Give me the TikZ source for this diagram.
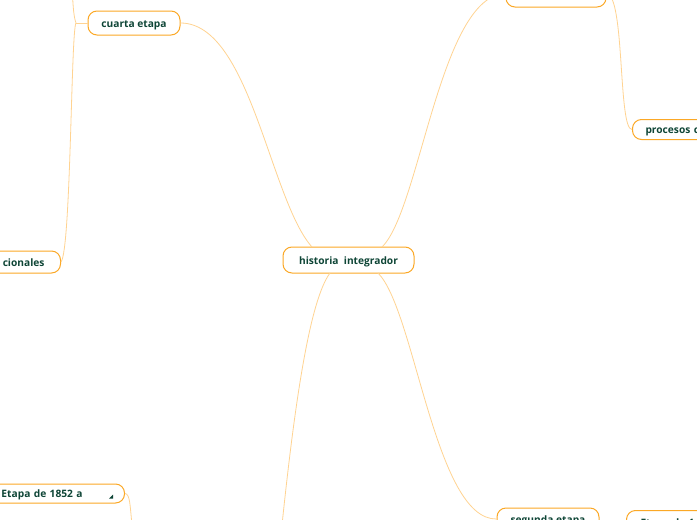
\documentclass[tikz,border=0pt]{standalone}
\usepackage{fontspec}
\setmainfont{Open Sans}
\begin{document}
\begin{tikzpicture}[x=1pt,y=-1pt,
  box/.style={draw=boxor, line width=1pt, rounded corners=9pt, fill=white,
    font=\bfseries\fontsize{10.2}{12}\selectfont, text=txtgr, inner sep=0pt,
    text height=8.5pt, text depth=0pt},
  link/.style={draw=linkor, line width=0.8pt}]
\definecolor{boxor}{HTML}{FBA826}
\definecolor{txtgr}{HTML}{0E4536}
\definecolor{linkor}{HTML}{FFD391}
\useasboundingbox (0,0) rectangle (697,520);
\coordinate (j) at (76,23);
\coordinate (upend) at (72,-12);
\coordinate (botl) at (282,525);
\coordinate (etfree) at (132,525);
% nodes
\node[box, minimum width=131pt, minimum height=26pt] (c) at (348.5,260) {historia\ \ integrador};
\node[box, minimum width=92pt, minimum height=24pt] (cu) at (134,23) {cuarta etapa};
\node[box, minimum width=100pt, minimum height=27pt] (pr) at (556,-6.5) {primera etapa};
\node[box, anchor=west, minimum height=20pt, text width=120pt, align=left, inner xsep=13pt] (pc) at (632,129.5) {procesos c};
\node[box, anchor=east, minimum height=22pt, text width=100pt, align=right, inner xsep=16pt] (ci) at (61,262) {cionales};
\node[box, anchor=east, minimum height=19pt, text width=160pt, align=left, inner xsep=0pt] (e1) at (125,493.5) {\hspace*{37pt}Etapa de 1852 a};
\node[box, minimum width=102pt, minimum height=22pt] (se) at (548,519) {segunda etapa};
\node[box, anchor=north west, minimum height=24pt, text width=100pt, align=left, inner xsep=14pt, inner ysep=3.5pt] (e2) at (626,510) {Etapa de 1};
\fill[txtgr] (113,494.5) -- (113,498.5) -- (109,498.5) -- cycle;
% links
\path[link] (cu.east) .. controls (250,23) and (270,200) .. (312,247);
\path[link] (382,247) .. controls (420,210) and (440,-5) .. (pr.west);
\path[link] (pr.east) .. controls (625,-5) and (618,129.5) .. (pc.west);
\path[link] (j) -- (cu.west);
\path[link] (j) .. controls (71,30) and (71,250) .. (ci.east);
\path[link] (j) .. controls (73,15) and (73,0) .. (upend);
\path[link] (330,273) .. controls (310,300) and (295,400) .. (botl);
\path[link] (378,273) .. controls (415,310) and (435,520) .. (se.west);
\path[link] (e1.east) .. controls (130,494) and (130,505) .. (etfree);
\end{tikzpicture}
\end{document}
